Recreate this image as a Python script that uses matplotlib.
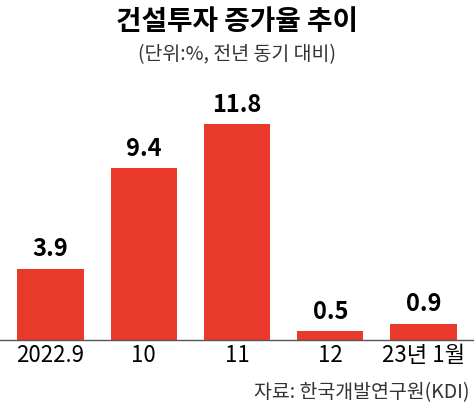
import matplotlib
matplotlib.use("Agg")
import matplotlib.pyplot as plt

plt.rcParams['font.family'] = ['Noto Sans CJK KR', 'DejaVu Sans']

categories = ['2022.9', '10', '11', '12', '23년 1월']
values = [3.9, 9.4, 11.8, 0.5, 0.9]
labels = ['3.9', '9.4', '11.8', '0.5', '0.9']

fig = plt.figure(figsize=(4.74, 4.12), dpi=100)
ax = fig.add_axes([0.0, 72 / 412, 1.0, 238 / 412])
x = range(len(values))
ax.bar(x, values, width=0.71, color='#e8392b')
for i, (v, t) in enumerate(zip(values, labels)):
    ax.text(i, v + 0.4, t, ha='center', va='bottom', fontsize=17, fontweight='bold')
ax.set_xlim(-0.54, 4.54)
ax.set_ylim(0, 13)
ax.set_xticks(list(x))
ax.set_xticklabels(categories, fontsize=16)
ax.tick_params(axis='x', length=0, pad=3)
ax.set_yticks([])
for s in ['top', 'right', 'left']:
    ax.spines[s].set_visible(False)
ax.spines['bottom'].set_linewidth(1.0)
ax.spines['bottom'].set_color('#555555')

fig.text(0.5, 1 - 22 / 412, '건설투자 증가율 추이', ha='center', va='center',
         fontsize=20, fontweight='bold')
fig.text(0.5, 1 - 55 / 412, '(단위:%, 전년 동기 대비)', ha='center', va='center',
         fontsize=14, color='#333333')
fig.text(0.99, 1 - 393 / 412, '자료: 한국개발연구원(KDI)', ha='right', va='center',
         fontsize=14, color='#333333')

fig.savefig('out.png', dpi=100)
